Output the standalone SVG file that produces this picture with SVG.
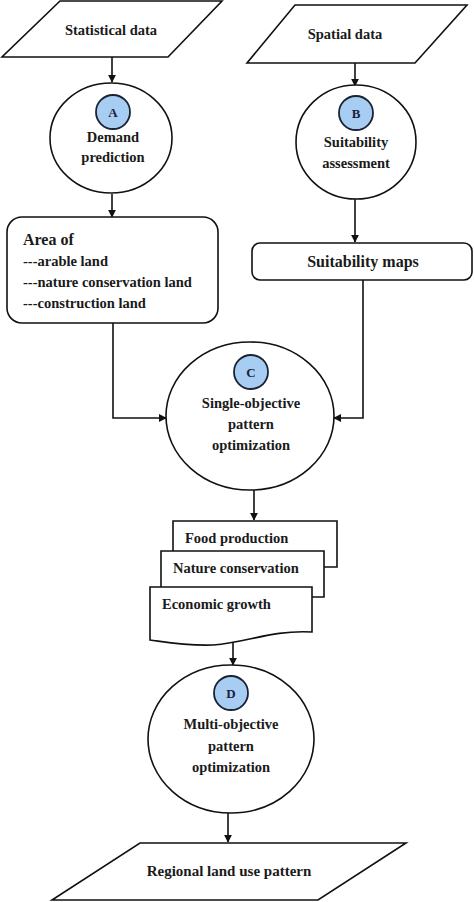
<svg xmlns="http://www.w3.org/2000/svg" width="474" height="902" viewBox="0 0 474 902">
<style>
.s{fill:#fff;stroke:#111;stroke-width:1.6}
.b{fill:#a8cdf2;stroke:#1a2233;stroke-width:1.8}
.t{font-family:"Liberation Serif","Times New Roman",serif;font-weight:bold;font-size:14.5px;fill:#1a1a1a}
.m{text-anchor:middle}
.bl{font-family:"Liberation Serif","Times New Roman",serif;font-weight:bold;font-size:13px;fill:#1a2040;text-anchor:middle}
.c{fill:none;stroke:#111;stroke-width:1.6}
</style>
<defs>
<marker id="ah" viewBox="0 0 10 10" refX="9" refY="5" markerWidth="5" markerHeight="5" orient="auto-start-reverse">
<path d="M0,0 L10,5 L0,10 z" fill="#111"/>
</marker>
</defs>
<rect width="474" height="902" fill="#fff"/>
<g id="connectors">
<line class="c" x1="112" y1="57" x2="112" y2="82" marker-end="url(#ah)"/>
<line class="c" x1="355" y1="63" x2="355" y2="86" marker-end="url(#ah)"/>
<line class="c" x1="112" y1="194" x2="112" y2="217" marker-end="url(#ah)"/>
<line class="c" x1="355" y1="199" x2="355" y2="242" marker-end="url(#ah)"/>
<polyline class="c" points="113,323 113,418 166,418" marker-end="url(#ah)"/>
<polyline class="c" points="363,280 363,418 334,418" marker-end="url(#ah)"/>
<line class="c" x1="254" y1="490" x2="254" y2="520" marker-end="url(#ah)"/>
<line class="c" x1="233" y1="643" x2="233" y2="665" marker-end="url(#ah)"/>
<line class="c" x1="228" y1="813" x2="228" y2="842" marker-end="url(#ah)"/>
</g>
<g id="statistical-data">
<polygon class="s" points="60,1 222,1 168,57 2,57"/>
<text class="t m" x="111" y="35">Statistical data</text>
</g>
<g id="spatial-data">
<polygon class="s" points="295,5 467,5 415,63 247,63"/>
<text class="t m" x="345" y="39">Spatial data</text>
</g>
<g id="demand-prediction">
<ellipse class="s" cx="111" cy="138" rx="61" ry="55"/>
<circle class="b" cx="113" cy="112" r="17"/>
<text class="bl" x="113" y="117">A</text>
<text class="t m" x="113" y="142">Demand</text>
<text class="t m" x="113" y="162">prediction</text>
</g>
<g id="suitability-assessment">
<ellipse class="s" cx="356" cy="142" rx="60" ry="57"/>
<circle class="b" cx="356" cy="113" r="17"/>
<text class="bl" x="356" y="118">B</text>
<text class="t m" x="356" y="147">Suitability</text>
<text class="t m" x="356" y="168">assessment</text>
</g>
<g id="area-of">
<rect class="s" x="7" y="217" width="211" height="106" rx="15"/>
<text class="t" x="23" y="245" style="font-size:16px">Area of</text>
<text class="t" x="23" y="266">---arable land</text>
<text class="t" x="23" y="287">---nature conservation land</text>
<text class="t" x="23" y="308">---construction land</text>
</g>
<g id="suitability-maps">
<rect class="s" x="252" y="243" width="220" height="37" rx="8"/>
<text class="t m" x="363" y="267" style="font-size:16px">Suitability maps</text>
</g>
<g id="single-objective">
<ellipse class="s" cx="250" cy="416" rx="84" ry="74"/>
<circle class="b" cx="251" cy="372" r="17"/>
<text class="bl" x="251" y="377">C</text>
<text class="t m" x="251" y="408">Single-objective</text>
<text class="t m" x="251" y="429">pattern</text>
<text class="t m" x="251" y="450">optimization</text>
</g>
<g id="objectives">
<path class="s" d="M173,521 H337 V567 H173 Z"/>
<text class="t" x="185" y="543">Food production</text>
<path class="s" d="M161,551 H324 V597 H161 Z"/>
<text class="t" x="173" y="573">Nature conservation</text>
<path class="s" d="M150,587 H312 V632 C270,630 250,642 213,645 C185,646 165,642 150,640 Z"/>
<text class="t" x="162" y="609">Economic growth</text>
</g>
<g id="multi-objective">
<ellipse class="s" cx="231" cy="739" rx="83" ry="74"/>
<circle class="b" cx="231" cy="693" r="17"/>
<text class="bl" x="231" y="698">D</text>
<text class="t m" x="231" y="729">Multi-objective</text>
<text class="t m" x="231" y="751">pattern</text>
<text class="t m" x="231" y="772">optimization</text>
</g>
<g id="regional-land-use">
<polygon class="s" points="140,843 406,843 318,900 52,900"/>
<text class="t m" x="229" y="876" style="font-size:15px">Regional land use pattern</text>
</g>
</svg>
